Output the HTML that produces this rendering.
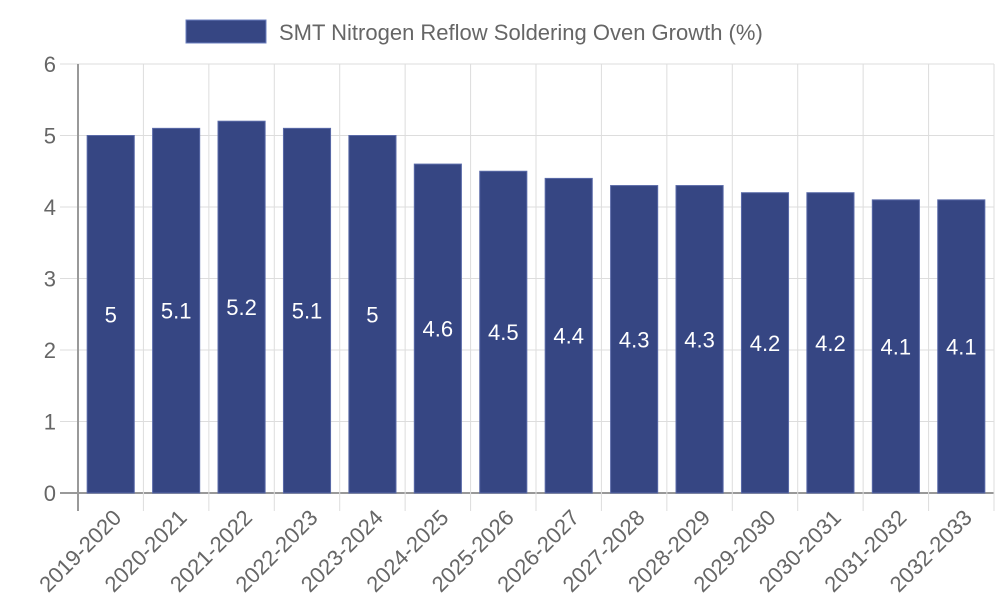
<!DOCTYPE html>
<html><head><meta charset="utf-8"><style>
html,body{margin:0;padding:0;background:#fff;}
svg{display:block;font-family:"Liberation Sans",Arial,sans-serif;}
</style></head><body>
<svg id="chart" width="1000" height="600">
<g>
<rect x="186" y="20" width="80" height="23" fill="#364683" stroke="#6b7fbf" stroke-width="1"/>
<text x="279" y="40" font-size="22" fill="#666">SMT Nitrogen Reflow Soldering Oven Growth (%)</text>
</g>
<g id="grid"></g>
<g id="bars"></g>
<g id="axes"></g>
</svg>
<script>
const categories=["2019-2020","2020-2021","2021-2022","2022-2023","2023-2024","2024-2025","2025-2026","2026-2027","2027-2028","2028-2029","2029-2030","2030-2031","2031-2032","2032-2033"];
const values=[5,5.1,5.2,5.1,5,4.6,4.5,4.4,4.3,4.3,4.2,4.2,4.1,4.1];
const yTicks=[0,1,2,3,4,5,6];
const NS="http://www.w3.org/2000/svg";
const L=78,R=994,T=64,B=493,yMax=6;
const bw=(R-L)/categories.length;
function y(v){return B-(v/yMax)*(B-T);}
function x(i){return L+bw*i;}
function mk(tag,attrs,parent){const e=document.createElementNS(NS,tag);for(const k in attrs)e.setAttribute(k,attrs[k]);parent.appendChild(e);return e;}
const grid=document.getElementById('grid'),bars=document.getElementById('bars'),axes=document.getElementById('axes');
yTicks.forEach(t=>{
 const ln=mk('line',{x1:L-18,x2:R,y1:y(t),y2:y(t),stroke:t===0?'#999':'#ddd','stroke-width':t===0?2:1},grid);
 
 
 const tx=mk('text',{x:L-22,y:y(t)+8,'text-anchor':'end','font-size':22,fill:'#666'},axes);
 tx.textContent=t;
 
 
});
for(let i=0;i<=categories.length;i++){
 const ln=mk('line',{x1:x(i),x2:x(i),y1:T,y2:B+18,stroke:i===0?'#999':'#ddd','stroke-width':i===0?2:1},grid);
 
 
}
categories.forEach((c,i)=>{
 const v=values[i];
 const cx=x(i)+bw/2,w=bw*0.72;
 const r=mk('rect',{x:cx-w/2,y:y(v),width:w,height:B-y(v),fill:'#364683',stroke:'#5a6aa8','stroke-width':1},bars);
 
 
 const vl=mk('text',{x:cx,y:(y(v)+B)/2+8,'text-anchor':'middle','font-size':22,fill:'#fff'},bars);
 vl.textContent=v;
 
 
 const xl=mk('text',{x:0,y:0,'text-anchor':'end','font-size':22,fill:'#666',transform:`translate(${cx+12},${B+26}) rotate(-45)`},axes);
 xl.textContent=c;
 
 
});
</script>
</body></html>
